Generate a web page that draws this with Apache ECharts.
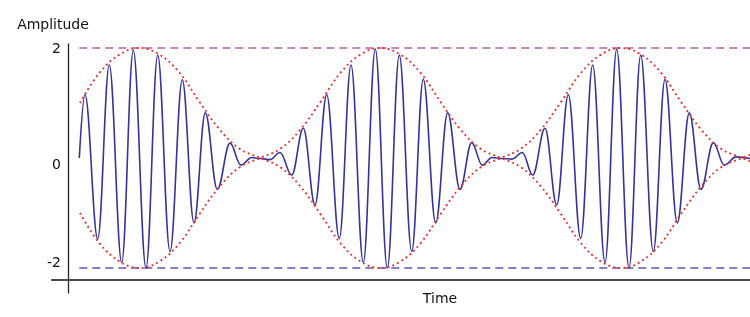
<!DOCTYPE html>
<html>
<head>
<meta charset="utf-8">
<script src="https://cdn.jsdelivr.net/npm/echarts@6/dist/echarts.min.js"></script>
<style>
html,body{margin:0;padding:0;background:#fff;}
#chart{width:750px;height:317px;}
</style>
</head>
<body>
<div id="chart"></div>
<script>
// Time (arbitrary units) of each extremum of the signal
const signalT = [11.3, 17, 29.7, 41.3, 53.7, 65.3, 78, 89.7, 102, 114.3, 126, 137.3, 149.3, 162, 173, 183.7, 193, 202, 212,
  223.7, 235.3, 247, 258.7, 271.3, 283, 295.3, 307.3, 319.3, 331.3, 343.7, 355.3, 367.7, 379.7, 392, 403.7, 414.3, 424, 434, 444,
  454.3, 464.7, 477, 488.7, 500.3, 512.7, 524.7, 537, 548.7, 561, 572.7, 585.3, 597, 609.3, 621.3, 633, 645.3, 656.3, 668, 682];
const signalV = [0, 1.15, -1.47, 1.69, -1.90, 1.96, -2.0, 1.87, -1.70, 1.42, -1.18, 0.82, -0.57, 0.27, -0.13, 0.01, -0.01, -0.03, 0.1,
  -0.31, 0.54, -0.85, 1.15, -1.46, 1.69, -1.90, 1.98, -2.0, 1.87, -1.70, 1.43, -1.18, 0.82, -0.57, 0.28, -0.13, 0.01, -0.01, -0.02,
  0.1, -0.31, 0.54, -0.85, 1.15, -1.46, 1.69, -1.90, 1.98, -2.0, 1.87, -1.70, 1.43, -1.18, 0.82, -0.57, 0.28, -0.13, 0.02, -0.01];

// Envelope (red dotted curves)
const envT = [12, 31.5, 51.5, 71.5, 91.5, 111.5, 131.5, 151.5, 171.5, 192, 212.5, 232.5, 252.5, 272.5, 292.5, 312.5, 332.5, 352.5,
  372.5, 392.5, 412.5, 433, 453, 473, 493, 513, 533, 553, 573, 593, 613, 633, 653, 674, 682];
const envUpper = [1.0, 1.55, 1.88, 2.0, 1.88, 1.55, 1.02, 0.52, 0.17, 0, -0.17, -0.52, -1.02, -1.55, -1.88, -2.0, -1.88, -1.55,
  -1.02, -0.52, -0.17, 0, 0.17, 0.52, 1.02, 1.55, 1.88, 2.0, 1.88, 1.55, 1.02, 0.52, 0.17, 0, -0.06];
const envLower = [-1.0, -1.55, -1.88, -2.0, -1.88, -1.55, -1.02, -0.52, -0.17, 0, 0.17, 0.52, 1.02, 1.55, 1.88, 2.0, 1.88, 1.55,
  1.02, 0.52, 0.17, 0, -0.17, -0.52, -1.02, -1.55, -1.88, -2.0, -1.88, -1.55, -1.02, -0.52, -0.17, 0, 0.06];

// Horizontal dashed reference levels
const refT = [11.3, 682];
const topLevel = 2;
const bottomLevel = -2;

// Tick labels on the amplitude axis
const yTicks = [-2, 0, 2];

const zip = (a, b) => a.map((v, i) => [v, b[i]]);

const chart = echarts.init(document.getElementById('chart'), null, {renderer: 'canvas'});
const font = 'DejaVu Sans';
chart.setOption({
  animation: false,
  backgroundColor: '#ffffff',
  textStyle: {fontFamily: font},
  grid: [
    {left: 68, right: 0, top: 44, bottom: 24},
    {left: 52, right: 0, top: 44, bottom: 37}
  ],
  xAxis: [
    {gridIndex: 0, type: 'value', min: 0, max: 682, show: false},
    {gridIndex: 1, type: 'value', min: 0, max: 1,
     name: 'Time', nameLocation: 'middle', nameGap: 12,
     nameTextStyle: {fontFamily: font, fontSize: 14, color: '#111', padding: [0, 0, 0, 78]},
     axisLine: {show: true, lineStyle: {color: '#4a4a4a', width: 2}},
     axisTick: {show: false}, axisLabel: {show: false}, splitLine: {show: false}}
  ],
  yAxis: [
    {gridIndex: 0, type: 'value', min: -2.4545, max: 2.0727,
     name: 'Amplitude', nameLocation: 'end', nameGap: 12,
     nameTextStyle: {fontFamily: font, fontSize: 14, color: '#111', align: 'center', padding: [0, 30, 0, 0]},
     axisLine: {show: true, lineStyle: {color: '#222', width: 1.3}},
     axisTick: {show: false},
     splitLine: {show: false},
     axisLabel: {
       customValues: yTicks,
       margin: 7,
       color: '#111',
       fontFamily: font,
       fontSize: 14,
       formatter: function (v) {
         if (v === 0) return '{z|0}';
         if (v === -2) return '{m|-2}';
         return '{p|' + v + '}';
       },
       rich: {
         z: {fontFamily: font, fontSize: 14, color: '#111', padding: [15, 0, 0, 0]},
         m: {fontFamily: font, fontSize: 14, color: '#111', padding: [0, 0, 10, 0]},
         p: {fontFamily: font, fontSize: 14, color: '#111', padding: [3, 0, 0, 0]}
       }
     }},
    {gridIndex: 1, type: 'value', show: false}
  ],
  series: [
    {type: 'line', xAxisIndex: 0, yAxisIndex: 0, data: zip(refT, refT.map(() => topLevel)), symbol: 'none',
     lineStyle: {color: '#b5649f', width: 1.5, type: [8, 5]}, z: 1},
    {type: 'line', xAxisIndex: 0, yAxisIndex: 0, data: zip(refT, refT.map(() => bottomLevel)), symbol: 'none',
     lineStyle: {color: '#5a5ab8', width: 1.5, type: [8, 5]}, z: 1},
    {type: 'line', xAxisIndex: 0, yAxisIndex: 0, data: zip(signalT, signalV), symbol: 'none',
     smooth: 0.38, smoothMonotone: 'x',
     lineStyle: {color: '#34349c', width: 1.6}, z: 2},
    {type: 'line', xAxisIndex: 0, yAxisIndex: 0, data: zip(envT, envUpper), symbol: 'none', smooth: 0.4,
     lineStyle: {color: '#f22f2f', width: 1.9, type: [1.9, 3.2]}, z: 3},
    {type: 'line', xAxisIndex: 0, yAxisIndex: 0, data: zip(envT, envLower), symbol: 'none', smooth: 0.4,
     lineStyle: {color: '#f22f2f', width: 1.9, type: [1.9, 3.2]}, z: 3}
  ]
});
</script>
</body>
</html>
